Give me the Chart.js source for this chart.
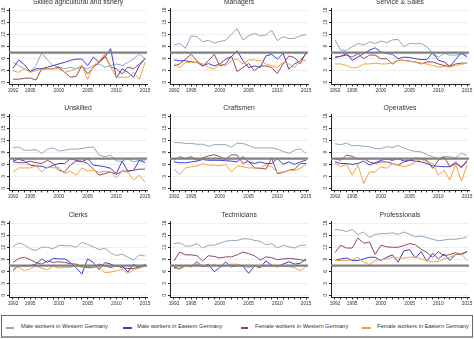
<!DOCTYPE html>
<html>
<head>
<meta charset="utf-8">
<script src="https://cdn.jsdelivr.net/npm/chart.js@4.4.1/dist/chart.umd.min.js"></script>
<style>
  body { margin: 0; width: 474px; height: 339px; overflow: hidden; background: #fff; position: relative;
         font-family: "Liberation Sans", Arial, sans-serif; }
  canvas.panel { position: absolute; }
  #legend { position: absolute; left: 1px; top: 315px; width: 470px; height: 20px;
            border: 1px solid #666; border-bottom: 2px solid #999; }
  .item { position: absolute; top: 0; height: 20px; line-height: 20px; font-size: 5.65px; color: #333; white-space: nowrap; }
  .swatch { position: absolute; top: 11px; height: 1.5px; }
</style>
</head>
<body>
<div id="legend"></div>
<script>
// years on the x axis
const years = [1992,1993,1994,1995,1996,1997,1998,1999,2000,2001,2002,2003,
               2004,2005,2006,2007,2008,2009,2010,2011,2012,2013,2014,2015];
const xTickLabels = [1992, 1995, 2000, 2005, 2010, 2015];
const yTicks = [0, 3, 6, 9, 12, 15, 18];
const refLevel = 7.4;

const categories = ['Skilled agricultural and fishery', 'Managers', 'Service & Sales',
                    'Unskilled', 'Craftsmen', 'Operatives',
                    'Clerks', 'Technicians', 'Professionals'];

const seriesNames = ['Male workers in Western Germany', 'Male workers in Eastern Germany',
                     'Female workers in Western Germany', 'Female workers in Eastern Germany'];

// one sub-array per category, same order as categories
const maleWest = [
  [5.0,4.2,3.4,2.7,4.2,7.3,5.6,4.2,3.8,3.4,3.8,3.4,3.8,3.4,4.2,4.6,3.8,4.2,4.6,4.2,5.0,5.9,7.1,5.9],
  [9.3,9.7,8.5,11.6,11.4,10.1,10.5,9.8,10.2,10.5,12.0,13.4,10.6,11.6,12.2,11.6,11.8,13.0,10.4,11.4,10.9,11.0,11.6,11.9],
  [10.6,8.0,8.0,8.9,9.7,9.3,10.1,9.7,10.3,9.9,10.6,10.7,8.9,9.7,9.6,9.7,8.9,7.2,6.3,7.2,6.8,6.8,7.0,6.8],
  [10.1,10.3,9.5,9.5,9.7,8.7,9.8,10.1,9.3,9.5,9.8,9.8,9.9,10.2,10.3,8.3,7.9,8.3,6.8,6.8,7.4,6.6,7.0,7.0],
  [11.4,11.4,11.2,11.2,11.0,11.0,10.5,10.9,10.9,10.9,10.3,11.3,11.2,10.7,10.1,10.1,10.1,10.1,9.8,9.2,8.7,9.5,9.9,8.7],
  [11.1,10.9,11.3,10.6,10.7,10.5,10.4,9.9,9.9,10.4,10.2,10.7,10.1,9.5,9.2,9.1,8.4,7.9,7.4,7.9,7.9,7.6,8.7,8.3],
  [12.1,13.1,12.6,11.6,11.2,12.0,12.0,11.6,12.5,12.4,12.4,12.0,13.2,12.7,12.1,11.4,11.8,10.6,9.9,10.3,9.5,8.8,10.1,9.8],
  [12.9,13.1,12.3,12.3,12.9,11.8,12.5,12.5,13.0,13.5,13.7,13.7,14.1,14.1,13.7,13.5,12.6,12.9,11.8,12.5,12.1,11.8,12.5,12.5],
  [16.4,16.3,15.9,16.4,15.2,15.8,14.4,15.2,15.4,15.4,15.6,15.2,15.8,15.2,14.6,14.8,14.4,14.0,13.6,13.8,14.0,14.0,14.2,14.6]
];

const maleEast = [
  [3.5,5.6,4.4,2.7,3.4,3.4,3.8,4.2,4.6,5.0,5.5,5.8,5.8,4.2,6.3,5.0,6.3,8.4,1.1,3.4,2.5,1.3,4.2,5.9],
  [5.6,5.4,5.4,5.1,5.0,4.1,4.7,4.1,4.6,5.8,6.4,7.9,5.4,3.7,4.1,3.7,6.6,7.0,5.8,7.2,3.3,4.6,5.4,7.2],
  [6.3,6.5,7.2,5.5,6.3,7.2,8.0,8.6,7.6,7.2,7.0,5.9,6.3,6.2,5.9,5.7,5.7,7.4,5.5,5.1,4.0,5.7,7.4,6.3],
  [6.8,7.3,6.8,5.8,5.6,5.5,5.1,5.8,6.2,6.2,7.4,7.0,6.6,7.4,5.8,5.6,5.4,5.0,3.7,6.8,4.3,4.5,7.0,6.4],
  [6.6,6.4,6.4,6.6,6.8,7.2,7.0,7.0,7.0,6.9,6.8,6.6,7.9,6.6,6.2,6.6,6.2,6.2,7.4,6.0,6.6,6.0,6.6,7.0],
  [6.6,6.2,6.2,6.0,6.2,6.8,5.8,6.4,7.0,7.3,7.0,7.4,6.8,7.0,6.8,6.6,6.2,5.6,5.5,5.4,5.4,6.2,5.4,6.6],
  [6.2,7.4,7.3,7.4,7.8,9.1,8.2,9.2,9.1,9.1,8.2,6.9,5.3,9.1,8.2,6.4,8.2,7.8,7.2,7.4,5.8,7.8,6.9,7.8],
  [7.0,6.7,7.5,7.1,8.4,7.1,7.8,5.9,7.0,8.3,7.1,7.5,7.3,5.5,7.3,6.9,8.6,7.5,7.1,7.8,8.4,7.8,8.0,9.1],
  [8.7,9.1,9.3,8.7,8.7,9.1,9.5,9.5,8.7,9.5,10.1,8.3,11.1,11.4,9.3,10.9,8.5,10.5,9.1,10.3,8.7,10.2,10.2,11.0]
];

const femaleWest = [
  [0.8,0.8,1.0,1.1,0.6,3.4,3.4,3.4,3.8,2.5,1.3,1.5,4.2,2.1,3.8,5.0,6.7,3.8,3.4,2.1,3.8,3.4,4.6,5.9],
  [4.1,4.6,5.8,7.0,5.4,4.1,5.4,7.0,4.1,4.6,6.6,2.7,3.7,4.7,2.9,4.1,4.1,3.7,2.2,4.6,6.6,6.2,4.6,7.5],
  [6.2,6.5,6.8,6.3,7.2,5.9,6.8,6.8,5.9,5.9,4.6,5.5,5.5,5.3,5.1,4.6,5.1,5.1,4.6,4.2,4.0,4.6,4.8,4.8],
  [6.6,6.4,6.4,6.8,6.4,6.2,7.0,6.2,4.5,4.1,5.8,6.8,6.8,6.2,4.8,3.3,3.7,4.1,3.5,4.3,4.3,4.5,4.8,4.8],
  [7.0,7.9,7.4,7.9,7.0,7.6,8.1,8.4,7.9,7.2,8.4,8.3,6.2,6.8,5.1,5.0,4.8,7.6,3.7,4.0,4.5,4.8,6.2,6.2],
  [7.4,7.0,8.3,8.0,7.3,7.4,6.6,6.2,6.6,6.6,6.2,5.8,6.6,7.0,7.6,7.4,7.0,5.0,7.0,7.9,5.4,6.6,5.1,7.0],
  [8.2,9.2,9.5,8.9,8.2,7.8,8.6,8.2,8.4,8.2,7.9,7.8,7.2,6.9,6.9,7.8,7.4,6.9,7.4,6.9,6.7,6.7,7.1,7.4],
  [8.6,10.8,10.1,10.1,9.9,8.6,9.9,9.7,9.3,9.6,9.6,10.1,10.8,10.4,9.9,8.8,9.6,9.4,8.9,9.1,9.2,9.1,8.9,8.6],
  [10.7,12.5,11.8,11.8,14.3,13.0,13.3,10.2,12.5,12.1,12.0,12.0,12.4,12.9,12.6,11.5,10.7,9.5,10.9,9.9,10.2,10.6,10.3,10.9]
];

const femaleEast = [
  [2.9,2.5,3.4,2.5,2.9,3.2,3.4,3.4,3.4,2.5,2.9,3.4,4.2,0.8,4.2,5.4,7.1,3.8,1.3,1.3,1.3,2.5,0.8,5.0],
  [4.6,3.7,5.0,5.0,5.0,4.6,3.7,3.3,4.6,4.1,5.4,5.8,4.6,5.6,5.6,5.4,4.6,4.1,3.7,5.0,4.6,3.7,5.4,5.4],
  [4.6,4.6,4.2,3.6,3.8,4.6,4.6,4.8,4.6,4.6,4.8,5.5,5.5,5.2,5.1,4.8,4.6,4.2,3.8,4.0,3.8,4.2,4.5,4.8],
  [4.1,5.1,5.1,5.1,5.6,4.1,5.4,5.1,5.2,3.7,4.3,3.3,5.1,4.3,4.5,4.0,4.3,4.1,2.6,4.3,4.0,2.1,3.3,1.5],
  [4.8,3.5,5.1,5.4,5.6,6.2,5.8,5.8,5.6,6.0,4.1,5.6,5.4,5.1,5.1,5.1,5.8,5.4,4.0,4.1,4.5,4.5,5.0,6.0],
  [6.2,5.4,6.0,3.3,5.8,1.2,4.1,4.1,5.4,5.0,6.2,5.8,5.4,5.8,6.6,7.3,6.6,6.2,3.3,4.5,2.1,6.0,1.8,5.8],
  [6.8,7.0,6.2,6.6,7.3,6.8,6.4,7.3,6.8,7.0,7.0,7.4,7.0,7.3,7.0,7.0,5.7,5.8,6.1,6.5,5.5,6.4,6.8,7.3],
  [6.7,6.5,7.3,7.3,7.8,7.3,7.2,7.8,7.0,7.5,7.8,7.8,7.3,6.9,7.2,7.3,7.3,7.2,7.2,7.3,7.2,6.9,6.1,7.2],
  [8.7,8.7,8.7,8.9,9.5,8.3,7.7,8.7,8.9,9.1,9.5,9.3,9.3,9.5,9.6,9.1,8.7,8.3,8.5,9.1,9.5,10.1,10.4,8.7]
];

const colors = ['#8fa7bf', '#3d3dd6', '#8e4b5f', '#f2a33c'];
const allSeries = [maleWest, maleEast, femaleWest, femaleEast];

// panel geometry
const colLeft = [0, 161, 322];
const rowTop = [-4, 102, 209];
const panelW = 152, panelH = 100;

// rotated y labels + horizontal reference line
const stataBits = {
  id: 'stataBits',
  afterDatasetsDraw(chart) {
    const { ctx, chartArea, scales } = chart;
    const yp = scales.y.getPixelForValue(refLevel);
    ctx.save();
    ctx.strokeStyle = '#808080';
    ctx.lineWidth = 2.2;
    ctx.beginPath();
    ctx.moveTo(chartArea.left, yp);
    ctx.lineTo(chartArea.right, yp);
    ctx.stroke();
    ctx.restore();
  },
  afterDraw(chart) {
    const { ctx, chartArea, scales } = chart;
    ctx.save();
    ctx.fillStyle = '#333';
    ctx.font = '4.8px "Liberation Sans", Arial, sans-serif';
    ctx.textAlign = 'center';
    ctx.textBaseline = 'middle';
    yTicks.forEach(v => {
      const y = scales.y.getPixelForValue(v);
      ctx.save();
      ctx.translate(chartArea.left - 5, y);
      ctx.rotate(-Math.PI / 2);
      ctx.fillText(String(v), 0, 0);
      ctx.restore();
    });
    ctx.restore();
  }
};

categories.forEach((cat, i) => {
  const cv = document.createElement('canvas');
  cv.className = 'panel';
  cv.width = panelW;
  cv.height = panelH;
  cv.style.left = colLeft[i % 3] + 'px';
  cv.style.top = rowTop[Math.floor(i / 3)] + 'px';
  document.body.appendChild(cv);

  // draw order: last dataset in list is drawn first
  const datasets = [3, 2, 1, 0].map(s => ({
    label: seriesNames[s],
    data: years.map((yr, k) => ({ x: yr, y: allSeries[s][i][k] })),
    borderColor: colors[s],
    borderWidth: 1,
    pointRadius: 0,
    tension: 0
  }));

  new Chart(cv, {
    type: 'line',
    data: { datasets: datasets },
    plugins: [stataBits],
    options: {
      responsive: false,
      animation: false,
      devicePixelRatio: 1,
      layout: { padding: { left: 0, right: 3, top: 0, bottom: 0 } },
      plugins: {
        legend: { display: false },
        tooltip: { enabled: false },
        title: {
          display: true,
          text: cat,
          fullSize: false,
          color: '#333',
          font: { size: 6.8, weight: 'normal', family: '"Liberation Sans", Arial, sans-serif' },
          padding: { top: 2, bottom: 2 }
        }
      },
      scales: {
        x: {
          type: 'linear',
          min: 1991.31,
          max: 2015.34,
          afterBuildTicks: s => { s.ticks = years.map(v => ({ value: v })); },
          afterFit: s => { s.height = 11.6; },
          ticks: {
            autoSkip: false,
            maxRotation: 0,
            padding: 1.5,
            color: '#333',
            font: { size: 4.8, family: '"Liberation Sans", Arial, sans-serif' },
            callback: v => xTickLabels.includes(v) ? String(v) : ''
          },
          grid: { drawOnChartArea: false, tickLength: 2, tickColor: '#222' },
          border: { display: true, color: '#222', width: 1 }
        },
        y: {
          min: -0.5,
          max: 18.5,
          afterBuildTicks: s => { s.ticks = yTicks.map(v => ({ value: v })); },
          afterFit: s => { s.width = 9; },
          ticks: { display: false },
          grid: { color: '#efefef', tickLength: 2, tickColor: '#222' },
          border: { display: true, color: '#222', width: 1 }
        }
      }
    }
  });
});

// legend built from the series names
const legendPos = [[6, 14, 21], [123, 132, 137], [241, 248, 255], [362, 371, 377]];
const legend = document.getElementById('legend');
seriesNames.forEach((name, s) => {
  const sw = document.createElement('div');
  sw.className = 'swatch';
  sw.style.left = (legendPos[s][0] - 2) + 'px';
  sw.style.width = (legendPos[s][1] - legendPos[s][0]) + 'px';
  sw.style.background = colors[s];
  legend.appendChild(sw);
  const t = document.createElement('div');
  t.className = 'item';
  t.style.left = (legendPos[s][2] - 2) + 'px';
  t.textContent = name;
  legend.appendChild(t);
});
</script>
</body>
</html>
